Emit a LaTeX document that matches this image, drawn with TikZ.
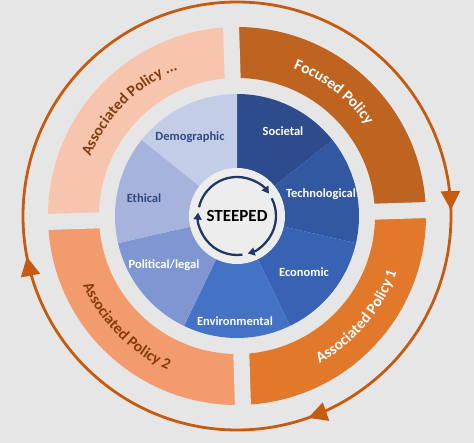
\documentclass[tikz,border=0pt]{standalone}
\usepackage{fontspec}
\setmainfont{Carlito}
\usetikzlibrary{arrows.meta,decorations.text,decorations.markings}
\definecolor{bg}{HTML}{E7E6E6}
\definecolor{disc}{HTML}{EDEDED}
\definecolor{ocirc}{HTML}{C55A11}
\definecolor{pfoc}{HTML}{BF6320}
\definecolor{pone}{HTML}{E1782A}
\definecolor{ptwo}{HTML}{F29C6E}
\definecolor{pdots}{HTML}{F7C4AE}
\definecolor{brown}{HTML}{843C0C}
\definecolor{bsoc}{HTML}{2E4C8C}
\definecolor{btec}{HTML}{3358A2}
\definecolor{beco}{HTML}{3862B4}
\definecolor{benv}{HTML}{4472C4}
\definecolor{bpol}{HTML}{7F96D2}
\definecolor{beth}{HTML}{A5B3DD}
\definecolor{bdem}{HTML}{C3CDE8}
\definecolor{dtxt}{HTML}{2F4A80}
\definecolor{navy}{HTML}{1F3864}
\newcommand\ptxtfont{\fontsize{15.5}{18}\selectfont\bfseries}
\tikzset{
  slab/.style={font=\fontsize{12.5}{14}\selectfont\bfseries, text=white, inner sep=0pt},
  dlab/.style={slab, text=dtxt},
  cyc/.style={draw=navy, line width=2.3pt, -{Triangle[length=7pt,width=8pt]}},
  gapbox/.style={fill=bg},
}
\begin{document}
\begin{tikzpicture}[x=1pt,y=1pt]
\useasboundingbox (-237,-227) rectangle (237,216);
\fill[bg] (-237,-227) rectangle (237,216);

% outer circle with arrowheads (clockwise)
\draw[ocirc, line width=2.8pt,
  postaction={decorate, decoration={markings,
    mark=at position 0.2456 with {\arrow[ocirc]{Triangle[length=19pt,width=19pt]}},
    mark=at position 0.4461 with {\arrow[ocirc]{Triangle[length=19pt,width=19pt]}},
    mark=at position 0.7194 with {\arrow[ocirc]{Triangle[length=19pt,width=19pt]}}}}]
  (90:214) arc[start angle=90, end angle=-270, radius=214];

% policy band
\begin{scope}[rotate=1.8]
\fill[pfoc] (0:189) arc[start angle=0, end angle=90, radius=189] -- (90:138) arc[start angle=90, end angle=0, radius=138] -- cycle;
\fill[pdots] (90:189) arc[start angle=90, end angle=180, radius=189] -- (180:138) arc[start angle=180, end angle=90, radius=138] -- cycle;
\fill[ptwo] (180:189) arc[start angle=180, end angle=270, radius=189] -- (270:138) arc[start angle=270, end angle=180, radius=138] -- cycle;
\fill[pone] (270:189) arc[start angle=270, end angle=360, radius=189] -- (360:138) arc[start angle=360, end angle=270, radius=138] -- cycle;
\fill[gapbox] (-8,128) rectangle (8,198);
\fill[gapbox] (-8,-198) rectangle (8,-128);
\fill[gapbox] (128,-8) rectangle (198,8);
\fill[gapbox] (-198,-8) rectangle (-128,8);
\end{scope}

% curved policy labels
\path[decorate, decoration={text along path, text align=center, text color=white,
  text={|\ptxtfont|Focused Policy}}]
  (112:158) arc[start angle=112, end angle=-8, radius=158];
\path[decorate, decoration={text along path, text align=center, text color=brown,
  text={|\ptxtfont|Associated Policy ...}}]
  (195:158) arc[start angle=195, end angle=75, radius=158];
\path[decorate, decoration={text along path, text align=center, text color=white,
  text={|\ptxtfont|Associated Policy 1}}]
  (-100:169) arc[start angle=-100, end angle=20, radius=169];
\path[decorate, decoration={text along path, text align=center, text color=brown,
  text={|\ptxtfont|Associated Policy 2}}]
  (-195:169) arc[start angle=-195, end angle=-75, radius=169];

% STEEPED pie
\fill[bsoc] (0,0) -- (90:122) arc[start angle=90, end angle=38.571, radius=122] -- cycle;
\fill[btec] (0,0) -- (38.571:122) arc[start angle=38.571, end angle=-12.857, radius=122] -- cycle;
\fill[beco] (0,0) -- (-12.857:122) arc[start angle=-12.857, end angle=-64.286, radius=122] -- cycle;
\fill[benv] (0,0) -- (-64.286:122) arc[start angle=-64.286, end angle=-115.714, radius=122] -- cycle;
\fill[bpol] (0,0) -- (-115.714:122) arc[start angle=-115.714, end angle=-167.143, radius=122] -- cycle;
\fill[beth] (0,0) -- (-167.143:122) arc[start angle=-167.143, end angle=-218.571, radius=122] -- cycle;
\fill[bdem] (0,0) -- (141.429:122) arc[start angle=141.429, end angle=90, radius=122] -- cycle;

\node[slab] (soc) at (46,85) {Societal};
\node[slab] (tec) at (84,22) {Technological};
\node[slab] (eco) at (67,-56) {Economic};
\node[slab] (env) at (-2,-105) {Environmental};
\node[slab] (pol) at (-73,-49) {Political/legal};
\node[dlab] (eth) at (-93,18) {Ethical};
\node[dlab] (dem) at (-47,79) {Demographic};

% centre
\fill[disc] (0,0) circle (48);
\draw[cyc] (167:39) arc[start angle=167, end angle=35, radius=39];
\draw[cyc] (27:39) arc[start angle=27, end angle=-74, radius=39];
\draw[cyc] (-82:39) arc[start angle=-82, end angle=-185, radius=39];
\node[font=\fontsize{17}{20}\selectfont\bfseries, text=black] (steeped) at (0,0) {STEEPED};
\end{tikzpicture}
\end{document}
